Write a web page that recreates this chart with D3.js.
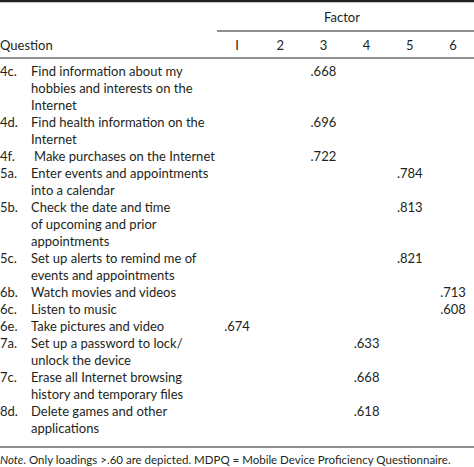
<!DOCTYPE html>
<html><head><meta charset="utf-8">
<script src="https://cdn.jsdelivr.net/npm/d3@7"></script>
<style>body{margin:0;background:#fff}text{font-family:Lato,"Open Sans",sans-serif;fill:#231f20}</style>
</head><body><div id="tbl"></div>
<script>
// table content
let arrCodes = ["4c.","4d.","4f.","5a.","5b.","5c.","6b.","6c.","6e.","7a.","7c.","8d."];
let arrQuestions = [
  ["Find information about my","hobbies and interests on the","Internet"],
  ["Find health information on the","Internet"],
  ["Make purchases on the Internet"],
  ["Enter events and appointments","into a calendar"],
  ["Check the date and time","of upcoming and prior","appointments"],
  ["Set up alerts to remind me of","events and appointments"],
  ["Watch movies and videos"],
  ["Listen to music"],
  ["Take pictures and video"],
  ["Set up a password to lock/","unlock the device"],
  ["Erase all Internet browsing","history and temporary files"],
  ["Delete games and other","applications"]
];
let arrFactor = [3,3,3,5,5,5,6,6,1,4,4,4];
let arrLoading = [".668",".696",".722",".784",".813",".821",".713",".608",".674",".633",".668",".618"];
let arrFactorTicks = ["1","2","3","4","5","6"];

let intW = 474, intH = 467;
let svg = d3.select("#tbl").append("svg").attr("width", intW).attr("height", intH);

let fnX = d3.scalePoint().domain(arrFactorTicks).range([237, 453]);
let intLine = 17;
let fnY = d3.scaleLinear().domain([0, 1]).range([76, 76 + intLine]);

// rules
let fnRule = (x1, x2, y, w) => svg.append("line").attr("x1", x1).attr("x2", x2)
  .attr("y1", y).attr("y2", y).attr("stroke", "#231f20").attr("stroke-width", w);
fnRule(0, intW, 1, 2.5);
fnRule(217, intW, 31, 1);
fnRule(0, intW, 58, 1);
fnRule(0, intW, 447, 1);

// header
svg.append("text").attr("x", 342).attr("y", 22).attr("text-anchor", "middle")
  .attr("font-size", 13).text("Factor");
svg.append("text").attr("x", 0).attr("y", 50).attr("font-size", 13).text("Question");
svg.selectAll(".hd").data(arrFactorTicks).enter().append("text").attr("class", "hd")
  .attr("x", d => fnX(d)).attr("y", 50).attr("text-anchor", "middle")
  .attr("font-size", 13).text(d => d === "1" ? "I" : d);

// rows
let intLineIdx = 0;
arrCodes.forEach((strCode, i) => {
  let y0 = fnY(intLineIdx);
  svg.append("text").attr("x", 0).attr("y", y0).attr("font-size", 13).text(strCode);
  arrQuestions[i].forEach((s, j) => {
    svg.append("text").attr("x", strCode === "4f." ? 34 : 31).attr("y", fnY(intLineIdx + j))
      .attr("font-size", 13).text(s);
  });
  svg.append("text").attr("x", fnX(String(arrFactor[i]))).attr("y", y0)
    .attr("text-anchor", "middle").attr("font-size", 13).text(arrLoading[i]);
  intLineIdx += arrQuestions[i].length;
});

// note
let note = svg.append("text").attr("x", 0).attr("y", 464).attr("font-size", 11.5);
note.append("tspan").attr("font-style", "italic").text("Note");
note.append("tspan").text(". Only loadings >.60 are depicted. MDPQ = Mobile Device Proficiency Questionnaire.");
</script></body></html>
